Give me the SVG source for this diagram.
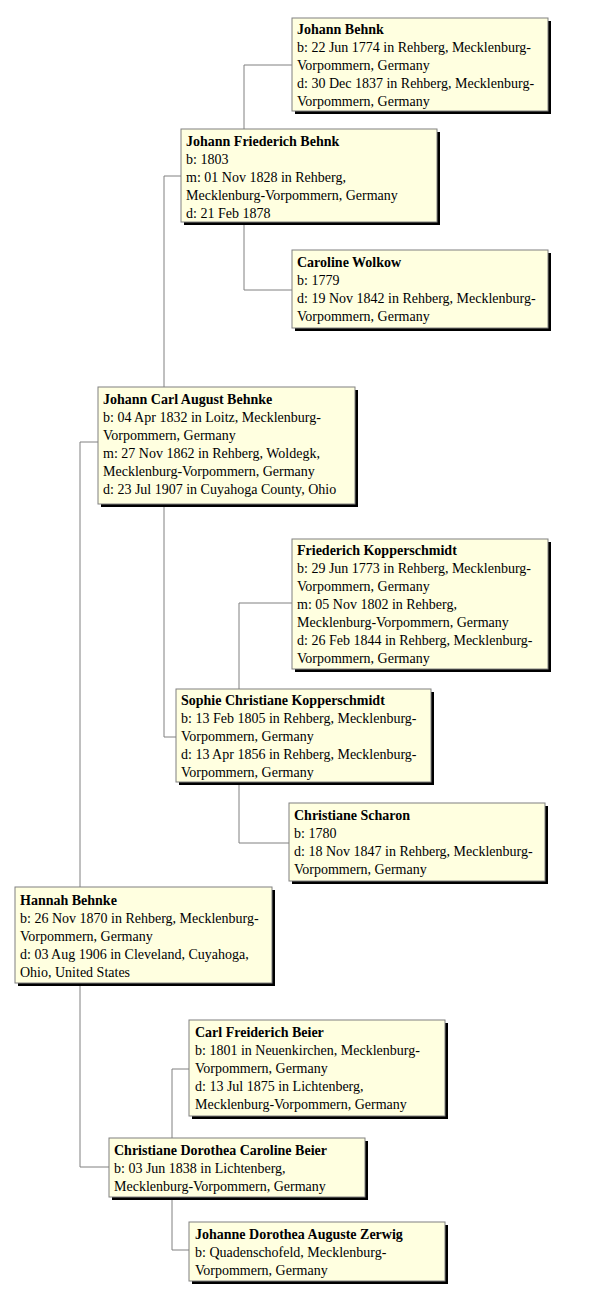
<svg xmlns="http://www.w3.org/2000/svg" width="600" height="1299" viewBox="0 0 600 1299">
<style>
.b{fill:#ffffe0;stroke:#808080;stroke-width:1}
.s{fill:#000}
text{font-family:"Liberation Serif",serif;font-size:14px;fill:#000}
.n{font-weight:bold}
.c{fill:none;stroke:#808080;stroke-width:1}
</style>
<rect width="600" height="1299" fill="#fff"/>
<g id="connectors">
<path class="c" d="M292 65H244V129"/>
<path class="c" d="M244 222V290H292"/>
<path class="c" d="M181 176H164V387"/>
<path class="c" d="M164 504V737H176"/>
<path class="c" d="M98 442H80V887"/>
<path class="c" d="M292 603H239V689"/>
<path class="c" d="M239 782V843H289"/>
<path class="c" d="M80 983V1167H109"/>
<path class="c" d="M189 1069H172V1138"/>
<path class="c" d="M172 1197V1250H189"/>
</g>
<g id="n1"><rect class="s" x="295" y="21" width="256" height="93"/><rect class="b" x="292" y="18" width="256" height="93"/>
<text x="297" y="34"><tspan class="n">Johann Behnk</tspan><tspan x="297" dy="18">b: 22 Jun 1774 in Rehberg, Mecklenburg-</tspan><tspan x="297" dy="18">Vorpommern, Germany</tspan><tspan x="297" dy="18">d: 30 Dec 1837 in Rehberg, Mecklenburg-</tspan><tspan x="297" dy="18">Vorpommern, Germany</tspan></text></g>
<g id="n2"><rect class="s" x="184" y="132" width="256" height="93"/><rect class="b" x="181" y="129" width="256" height="93"/>
<text x="186" y="146"><tspan class="n">Johann Friederich Behnk</tspan><tspan x="186" dy="18">b: 1803</tspan><tspan x="186" dy="18">m: 01 Nov 1828 in Rehberg,</tspan><tspan x="186" dy="18">Mecklenburg-Vorpommern, Germany</tspan><tspan x="186" dy="18">d: 21 Feb 1878</tspan></text></g>
<g id="n3"><rect class="s" x="295" y="253" width="256" height="78"/><rect class="b" x="292" y="250" width="256" height="78"/>
<text x="297" y="267"><tspan class="n">Caroline Wolkow</tspan><tspan x="297" dy="18">b: 1779</tspan><tspan x="297" dy="18">d: 19 Nov 1842 in Rehberg, Mecklenburg-</tspan><tspan x="297" dy="18">Vorpommern, Germany</tspan></text></g>
<g id="n4"><rect class="s" x="101" y="390" width="257" height="117"/><rect class="b" x="98" y="387" width="257" height="117"/>
<text x="103" y="404"><tspan class="n">Johann Carl August Behnke</tspan><tspan x="103" dy="18">b: 04 Apr 1832 in Loitz, Mecklenburg-</tspan><tspan x="103" dy="18">Vorpommern, Germany</tspan><tspan x="103" dy="18">m: 27 Nov 1862 in Rehberg, Woldegk,</tspan><tspan x="103" dy="18">Mecklenburg-Vorpommern, Germany</tspan><tspan x="103" dy="18">d: 23 Jul 1907 in Cuyahoga County, Ohio</tspan></text></g>
<g id="n5"><rect class="s" x="295" y="542" width="256" height="130"/><rect class="b" x="292" y="539" width="256" height="130"/>
<text x="297" y="555"><tspan class="n">Friederich Kopperschmidt</tspan><tspan x="297" dy="18">b: 29 Jun 1773 in Rehberg, Mecklenburg-</tspan><tspan x="297" dy="18">Vorpommern, Germany</tspan><tspan x="297" dy="18">m: 05 Nov 1802 in Rehberg,</tspan><tspan x="297" dy="18">Mecklenburg-Vorpommern, Germany</tspan><tspan x="297" dy="18">d: 26 Feb 1844 in Rehberg, Mecklenburg-</tspan><tspan x="297" dy="18">Vorpommern, Germany</tspan></text></g>
<g id="n6"><rect class="s" x="179" y="692" width="255" height="93"/><rect class="b" x="176" y="689" width="255" height="93"/>
<text x="181" y="705"><tspan class="n">Sophie Christiane Kopperschmidt</tspan><tspan x="181" dy="18">b: 13 Feb 1805 in Rehberg, Mecklenburg-</tspan><tspan x="181" dy="18">Vorpommern, Germany</tspan><tspan x="181" dy="18">d: 13 Apr 1856 in Rehberg, Mecklenburg-</tspan><tspan x="181" dy="18">Vorpommern, Germany</tspan></text></g>
<g id="n7"><rect class="s" x="292" y="806" width="256" height="78"/><rect class="b" x="289" y="803" width="256" height="78"/>
<text x="294" y="820"><tspan class="n">Christiane Scharon</tspan><tspan x="294" dy="18">b: 1780</tspan><tspan x="294" dy="18">d: 18 Nov 1847 in Rehberg, Mecklenburg-</tspan><tspan x="294" dy="18">Vorpommern, Germany</tspan></text></g>
<g id="n8"><rect class="s" x="18" y="890" width="257" height="96"/><rect class="b" x="15" y="887" width="257" height="96"/>
<text x="20" y="905"><tspan class="n">Hannah Behnke</tspan><tspan x="20" dy="18">b: 26 Nov 1870 in Rehberg, Mecklenburg-</tspan><tspan x="20" dy="18">Vorpommern, Germany</tspan><tspan x="20" dy="18">d: 03 Aug 1906 in Cleveland, Cuyahoga,</tspan><tspan x="20" dy="18">Ohio, United States</tspan></text></g>
<g id="n9"><rect class="s" x="192" y="1023" width="256" height="96"/><rect class="b" x="189" y="1020" width="256" height="96"/>
<text x="195" y="1037"><tspan class="n">Carl Freiderich Beier</tspan><tspan x="195" dy="18">b: 1801 in Neuenkirchen, Mecklenburg-</tspan><tspan x="195" dy="18">Vorpommern, Germany</tspan><tspan x="195" dy="18">d: 13 Jul 1875 in Lichtenberg,</tspan><tspan x="195" dy="18">Mecklenburg-Vorpommern, Germany</tspan></text></g>
<g id="n10"><rect class="s" x="112" y="1141" width="256" height="59"/><rect class="b" x="109" y="1138" width="256" height="59"/>
<text x="114" y="1155"><tspan class="n">Christiane Dorothea Caroline Beier</tspan><tspan x="114" dy="18">b: 03 Jun 1838 in Lichtenberg,</tspan><tspan x="114" dy="18">Mecklenburg-Vorpommern, Germany</tspan></text></g>
<g id="n11"><rect class="s" x="192" y="1225" width="256" height="59"/><rect class="b" x="189" y="1222" width="256" height="59"/>
<text x="195" y="1239"><tspan class="n">Johanne Dorothea Auguste Zerwig</tspan><tspan x="195" dy="18">b: Quadenschofeld, Mecklenburg-</tspan><tspan x="195" dy="18">Vorpommern, Germany</tspan></text></g>
</svg>
